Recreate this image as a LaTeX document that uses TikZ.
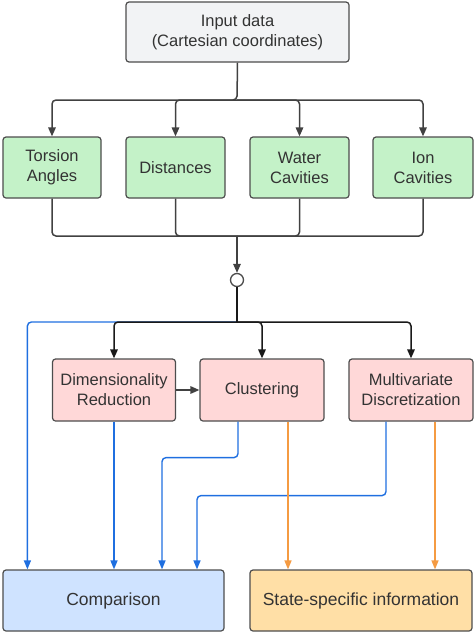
\documentclass[tikz,border=0pt]{standalone}
\usepackage{fontspec}
\setmainfont{Liberation Sans}
\usepackage{tikz}
\usetikzlibrary{calc,positioning,arrows.meta,shapes}
\definecolor{boxline}{HTML}{4D4D4D}
\definecolor{txt}{HTML}{333333}
\definecolor{inputfill}{HTML}{F2F3F5}
\definecolor{featfill}{HTML}{C4F2C8}
\definecolor{methfill}{HTML}{FFD8D8}
\definecolor{compfill}{HTML}{CFE3FF}
\definecolor{statefill}{HTML}{FFDFA6}
\definecolor{blueline}{HTML}{1F6FE0}
\definecolor{orangeline}{HTML}{F59B42}
\tikzstyle{box}       = [rectangle, rounded corners=3pt, draw=boxline, line width=1.2pt, align=center, inner sep=0pt, text=txt, font=\fontsize{16.5}{20}\selectfont]
\tikzstyle{line}      = [line width=1.5pt, draw=boxline!85!black, rounded corners=4pt]
\tikzstyle{darkline}  = [line width=1.5pt, draw=black!90, rounded corners=4pt]
\tikzstyle{arrow}     = [line, -{Triangle[length=9pt,width=7.5pt]}]
\tikzstyle{darkarrow} = [darkline, -{Triangle[length=9pt,width=7.5pt]}]
\tikzstyle{bluearrow} = [line width=1.4pt, draw=blueline, rounded corners=4pt, -{Triangle[length=9pt,width=7pt]}]
\tikzstyle{orarrow}   = [line width=1.4pt, draw=orangeline, rounded corners=4pt, -{Triangle[length=9pt,width=7pt]}]

\begin{document}
\begin{tikzpicture}[x=1pt,y=-1pt]
        \useasboundingbox (0,0) rectangle (474,632);

        \node[box, fill=inputfill, minimum width=223pt, minimum height=60pt] (input) at (237.5,32) {Input data\\(Cartesian coordinates)};

        \node[box, fill=featfill, minimum width=98pt, minimum height=61pt] (torsion) at (52,167.5) {Torsion\\Angles};
        \node[box, fill=featfill, minimum width=99pt, minimum height=61pt] (dist) at (175.5,167.5) {Distances};
        \node[box, fill=featfill, minimum width=99pt, minimum height=61pt] (water) at (299.5,167.5) {Water\\Cavities};
        \node[box, fill=featfill, minimum width=100pt, minimum height=61pt] (ion) at (423,167.5) {Ion\\Cavities};

        \node[circle, draw=boxline, line width=1.3pt, fill=white, minimum size=13pt, inner sep=0pt] (hub) at (237,280) {};

        \node[box, fill=methfill, minimum width=123pt, minimum height=62pt] (dim) at (114,390) {Dimensionality\\Reduction};
        \node[box, fill=methfill, minimum width=124pt, minimum height=62pt] (clus) at (262,390) {Clustering};
        \node[box, fill=methfill, minimum width=124pt, minimum height=62pt] (multi) at (411,390) {Multivariate\\Discretization};

        \node[box, fill=compfill, minimum width=221pt, minimum height=61pt, font=\fontsize{17.5}{20}\selectfont] (comp) at (113.5,600.5) {Comparison};
        \node[box, fill=statefill, minimum width=222pt, minimum height=61pt, font=\fontsize{17.5}{20}\selectfont] (state) at (361,600.5) {State-specific information};

        \coordinate (split) at (237,100);
        \coordinate (merge) at (237,236);
        \coordinate (fork) at (237,322);

        \draw[arrow] (input.south) -- (split) -| (torsion.north);
        \draw[arrow] (split) -| (dist.north);
        \draw[arrow] (split) -| (water.north);
        \draw[arrow] (split) -| (ion.north);

        \draw[line] (torsion.south) |- (merge);
        \draw[line] (dist.south) |- (merge);
        \draw[line] (water.south) |- (merge);
        \draw[line] (ion.south) |- (merge);
        \draw[arrow] (merge) -- (hub.north);

        \draw[bluearrow] (fork) -| ([xshift=25pt]comp.north west);
        \draw[darkline] (hub.south) -- (fork);
        \draw[darkarrow] (fork) -| (dim.north);
        \draw[darkarrow] (fork) -| (clus.north);
        \draw[darkarrow] (fork) -| (multi.north);

        \draw[arrow] (dim.east) -- (clus.west);

        \draw[bluearrow] (dim.south) -- (dim.south |- comp.north);
        \draw[bluearrow] ([xshift=-24pt]clus.south) -- ++(0,36) -| ([xshift=48.5pt]comp.north);
        \draw[bluearrow] ([xshift=-25pt]multi.south) -- ++(0,74) -| ([xshift=83.5pt]comp.north);

        \draw[orarrow] ([xshift=26pt]clus.south) coordinate (o1) -- (o1 |- state.north);
        \draw[orarrow] ([xshift=24pt]multi.south) coordinate (o2) -- (o2 |- state.north);
    \end{tikzpicture}
\end{document}
